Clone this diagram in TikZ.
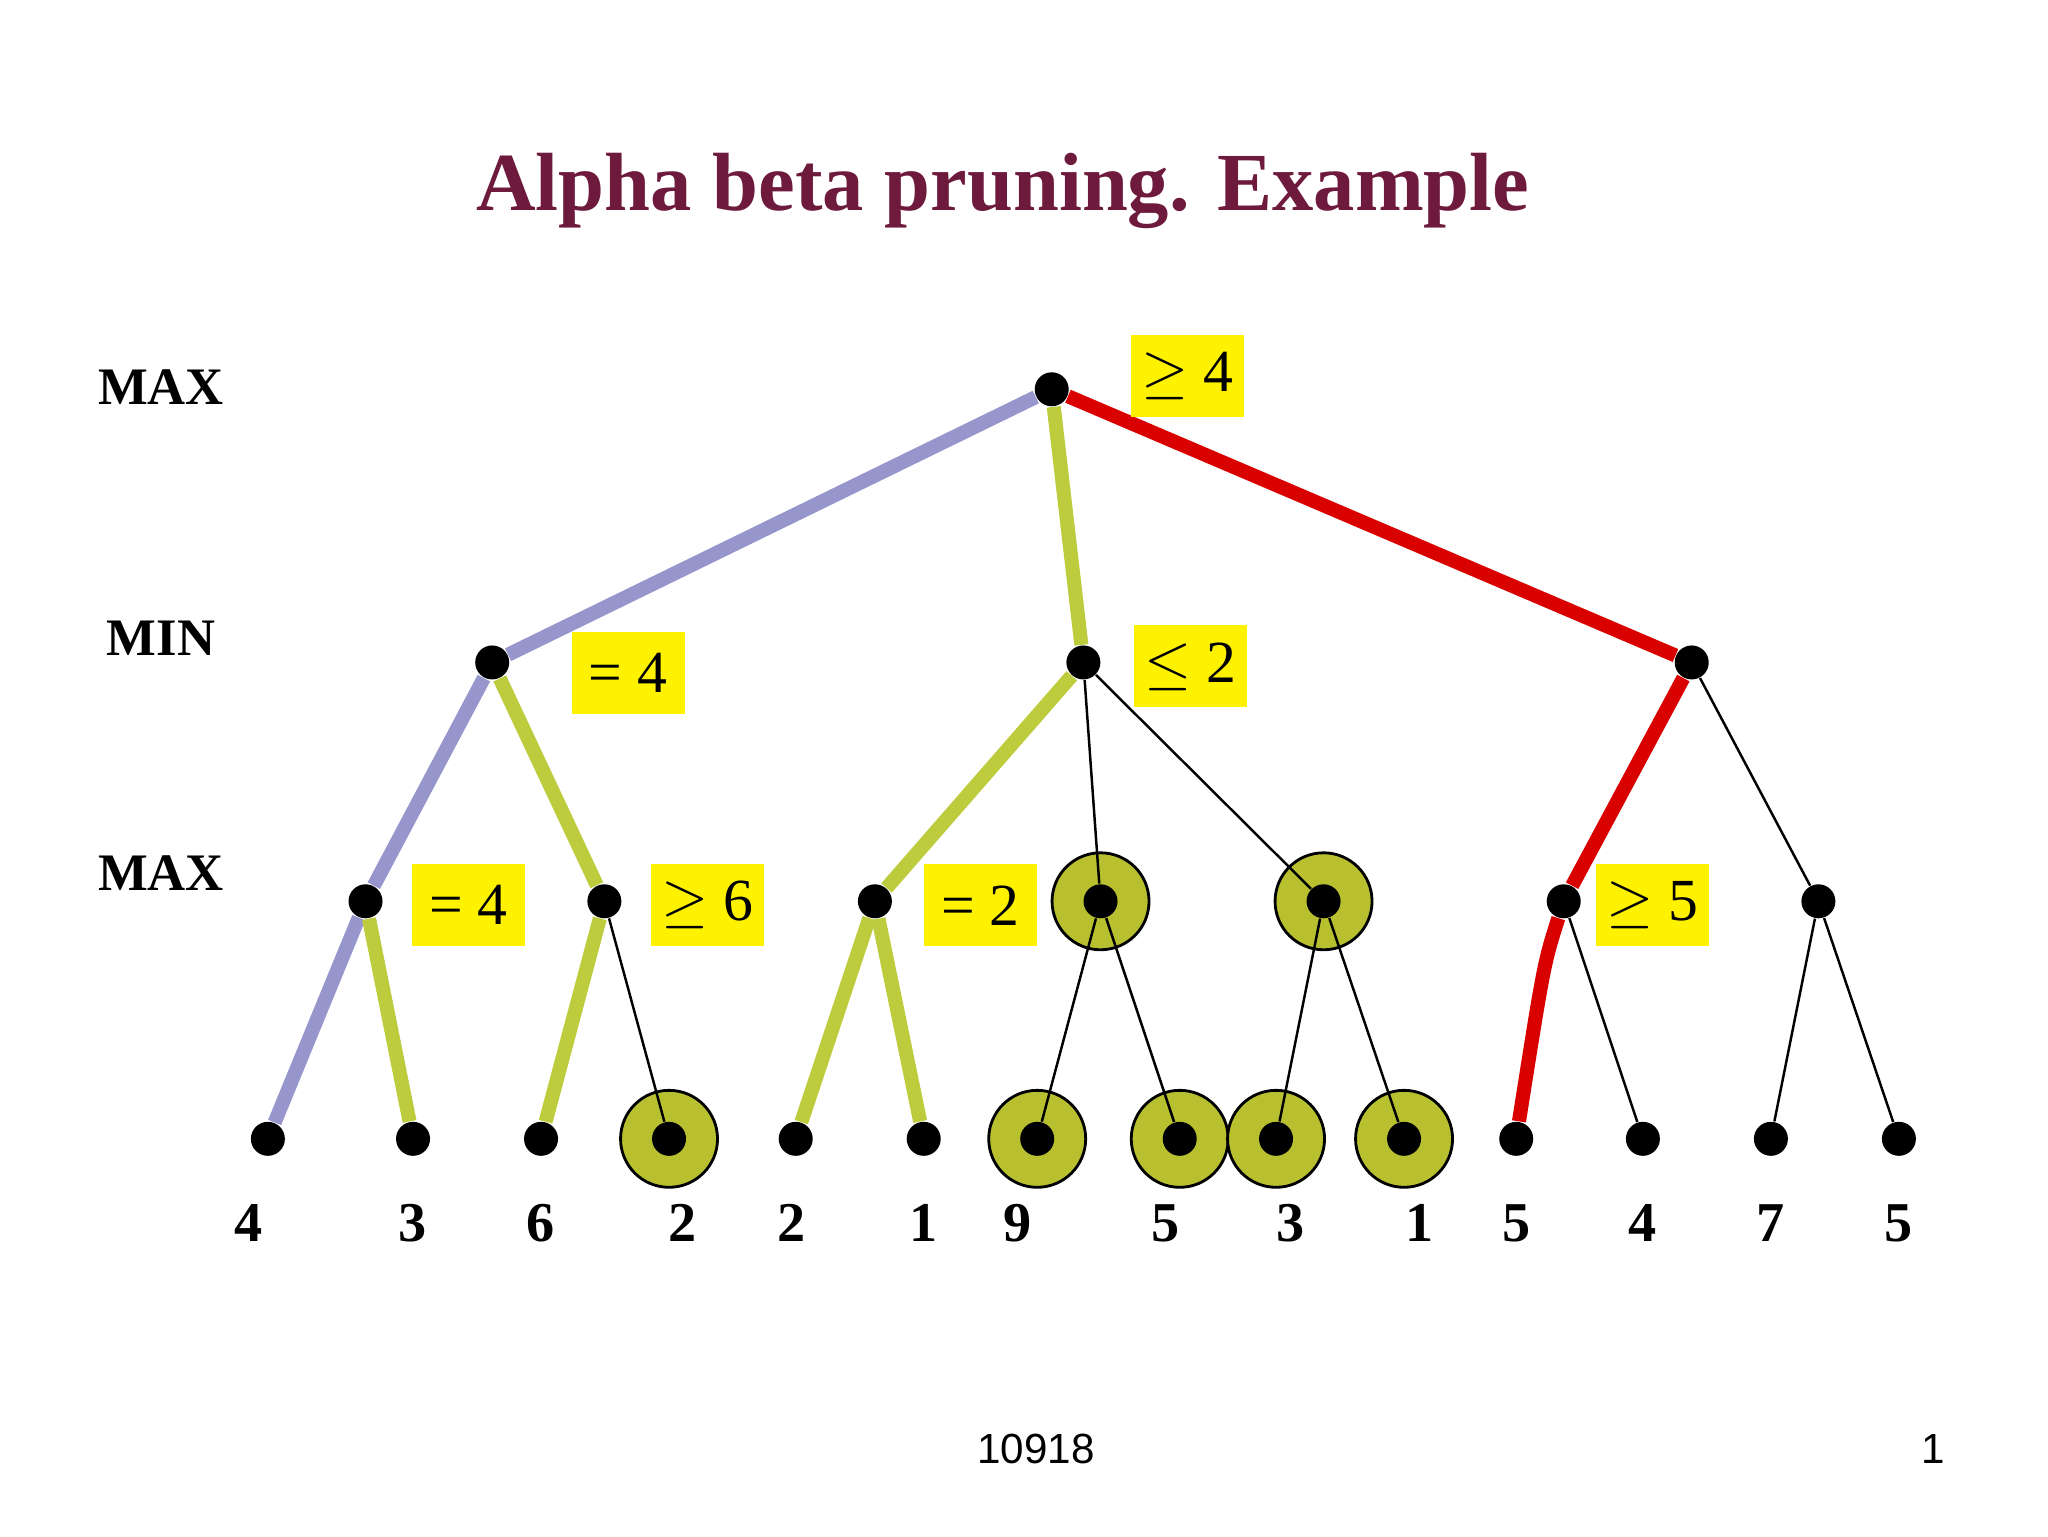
\documentclass[tikz,border=0pt]{standalone}
\usepackage{fontspec}
\setmainfont{Liberation Serif}
\newfontfamily\sansf{Liberation Sans}
\usepackage{amssymb}
\begin{document}
\begin{tikzpicture}[x=0.013196cm,y=-0.013196cm]
\definecolor{olivey}{RGB}{188,204,60}
\definecolor{ringc}{RGB}{184,192,48}
\definecolor{blu}{RGB}{150,150,205}
\definecolor{titc}{RGB}{110,26,60}
\tikzset{
  dot/.style={circle,fill=black,inner sep=0pt,minimum size=0.34cm},
  ring/.style={circle,fill=ringc,draw=black,line width=0.8pt,minimum size=0.97cm},
  blu/.style={line width=4pt,color=blu},
  yel/.style={line width=4pt,color=olivey},
  redl/.style={line width=4pt,color=red!85!black},
  thin/.style={line width=0.7pt,black},
  box/.style={fill=yellow,minimum width=1.13cm,minimum height=0.82cm,inner sep=0pt,font=\fontsize{17}{20}\selectfont},
  lev/.style={font=\bfseries\fontsize{15}{18}\selectfont},
  leaf/.style={font=\bfseries\fontsize{16}{19}\selectfont}}
\useasboundingbox (0,0) rectangle (1552,1164);
\node[font=\bfseries\fontsize{23.5}{28}\selectfont,text=titc] (title) at (760,145) {Alpha beta pruning. Example};
\node[lev] (m1) at (122,293) {MAX};
\node[lev] (m2) at (122,484) {MIN};
\node[lev] (m3) at (122,662) {MAX};
\foreach \n/\x/\y in {rB2/834/683,rB3/1003/683,r4/507/863,r7/786/863,r8/894/863,r9/967/863,r10/1064/863}
  \node[ring] (\n) at (\x,\y) {};
\node[dot] (R) at (797,295) {};
\node[dot] (A) at (373,502) {};
\node[dot] (B) at (821,502) {};
\node[dot] (C) at (1282,502) {};
\node[dot] (A1) at (277,683) {};
\node[dot] (A2) at (458,683) {};
\node[dot] (B1) at (663,683) {};
\node[dot] (B2) at (834,683) {};
\node[dot] (B3) at (1003,683) {};
\node[dot] (C1) at (1185,683) {};
\node[dot] (C2) at (1378,683) {};
\foreach \i/\x in {1/203,2/313,3/410,4/507,5/603,6/700,7/786,8/894,9/967,10/1064,11/1149,12/1245,13/1342,14/1439}
  \node[dot] (L\i) at (\x,863) {};
\draw[blu] (R) -- (A);
\draw[yel] (R) -- (B);
\draw[redl] (R) -- (C);
\draw[blu] (A) -- (A1);
\draw[yel] (A) -- (A2);
\draw[yel] (B) -- (B1);
\draw[thin] (B) -- (B2);
\draw[thin] (B) -- (B3);
\draw[redl] (C) -- (C1);
\draw[thin] (C) -- (C2);
\draw[blu] (A1) -- (L1);
\draw[yel] (A1) -- (L2);
\draw[yel] (A2) -- (L3);
\draw[thin] (A2) -- (L4);
\draw[yel] (B1) -- (L5);
\draw[yel] (B1) -- (L6);
\draw[thin] (B2) -- (L7);
\draw[thin] (B2) -- (L8);
\draw[thin] (B3) -- (L9);
\draw[thin] (B3) -- (L10);
\draw[redl] (C1) .. controls (1170,730) .. (L11);
\draw[thin] (C1) -- (L12);
\draw[thin] (C2) -- (L13);
\draw[thin] (C2) -- (L14);
\foreach \n/\x/\y/\t in {bR/900/285/{$\geq$ 4},bA/476/510/{= 4},bB/902/505/{$\leq$ 2},bA1/355/686/{= 4},bA2/536/686/{$\geq$ 6},bB1/743/686/{= 2},bC1/1252/686/{$\geq$ 5}}
  \node[box] (\n) at (\x,\y) {\t};
\foreach \i/\x/\t in {1/188/4,2/313/3,3/410/6,4/517/2,5/600/2,6/700/1,7/771/9,8/883/5,9/978/3,10/1076/1,11/1149/5,12/1245/4,13/1342/7,14/1439/5}
  \node[leaf] (t\i) at (\x,927) {\t};
\node[font=\sansf\fontsize{12}{14}\selectfont] (f1) at (785,1098) {10918};
\node[font=\sansf\fontsize{12}{14}\selectfont] (f2) at (1465,1098) {1};
\end{tikzpicture}
\end{document}
